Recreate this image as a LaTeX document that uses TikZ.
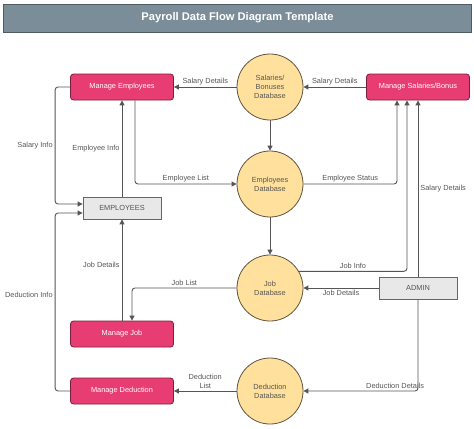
\documentclass[tikz,border=0pt]{standalone}
\usepackage{fontspec}
\setmainfont{Liberation Sans}
\usetikzlibrary{arrows.meta}

\definecolor{pinkfill}{HTML}{E83D72}
\definecolor{pinkline}{HTML}{7A1F3D}
\definecolor{storefill}{HTML}{FFE09C}
\definecolor{storeline}{HTML}{5E5440}
\definecolor{boxfill}{HTML}{E8E8E8}
\definecolor{boxline}{HTML}{666666}
\definecolor{titlefill}{HTML}{7B8D98}
\definecolor{titleline}{HTML}{4F5B62}
\definecolor{linegray}{HTML}{555555}
\definecolor{txtgray}{HTML}{555555}

\begin{document}
\begin{tikzpicture}
    [
        x=1bp, y=-1bp,
        title/.style = {draw=titleline, fill=titlefill, line width=1bp, minimum width=467bp, minimum height=28bp, text=white, font=\fontsize{11.2}{13}\selectfont\bfseries},
        process/.style = {draw=pinkline, fill=pinkfill, rounded corners=3bp, minimum width=103bp, minimum height=26bp, line width=0.8bp, text=white, font=\fontsize{7.4}{9}\selectfont},
        store/.style = {circle, draw=storeline, fill=storefill, minimum size=66bp, inner sep=0pt, line width=0.8bp, align=center, text=txtgray, font=\fontsize{7.4}{9}\selectfont},
        entity/.style = {draw=boxline, fill=boxfill, minimum width=78bp, minimum height=22bp, line width=0.8bp, text=txtgray, font=\fontsize{7.4}{9}\selectfont},
        flow/.style = {draw=linegray, line width=0.9bp, rounded corners=3bp, -{Triangle[length=5bp,width=5bp]}},
        lbl/.style = {text=txtgray, font=\fontsize{7.4}{9}\selectfont, inner sep=2bp, align=center},
    ]

    \useasboundingbox (0,0) rectangle (474,428);

    \node[title] (t) at (237.5,18) {Payroll Data Flow Diagram Template};

    \node[process] (0p) at (122,87)  {Manage Employees};
    \node[process] (1p) at (418,87)  {Manage Salaries/Bonus};
    \node[process] (2p) at (122,334) {Manage Job};
    \node[process] (3p) at (122,391) {Manage Deduction};

    \node[store] (0d) at (270,87)  {Salaries/\\Bonuses\\Database};
    \node[store] (1d) at (270,184) {Employees\\Database};
    \node[store] (2d) at (270,288) {Job\\Database};
    \node[store] (3d) at (270,391) {Deduction\\Database};

    \node[entity] (0e) at (122,208) {EMPLOYEES};
    \node[entity] (1e) at (418,288) {ADMIN};

    \draw[flow] (0d.west) -- node[lbl, above] {Salary Details} (0p.east);
    \draw[flow] (1p.west) -- node[lbl, above] {Salary Details} (0d.east);
    \draw[flow] (0d.south) -- (1d.north);
    \draw[flow] (1d.south) -- (2d.north);
    \draw[flow] ([xshift=13bp]0p.south) |- node[lbl, pos=0.75, above] {Employee List} (1d.west);
    \draw[flow] (1d.east) -| node[lbl, pos=0.25, above] {Employee Status} ([xshift=-21bp]1p.south);
    \draw[flow] (0e.north) -- node[lbl, left] {Employee Info} (0p.south);
    \draw[flow] (0p.west) -- ++(-15,0) |- node[lbl, pos=0.25, left] {Salary Info} ([yshift=4bp]0e.west);
    \draw[flow] (3p.west) -- ++(-15,0) |- node[lbl, pos=0.27, left] {Deduction Info} ([yshift=-5bp]0e.west);
    \draw[flow] (2p.north) -- node[lbl, pos=0.55, left] {Job Details} (0e.south);
    \draw[flow] (2d.west) -| node[lbl, pos=0.25, above] {Job List} ([xshift=10bp]2p.north);
    \draw[flow] (2d.30) -| node[lbl, pos=0.25, above] {Job Info} ([xshift=-11bp]1p.south);
    \draw[flow] (1e.north) -- node[lbl, right] {Salary Details} (1p.south);
    \draw[flow] (1e.west) -- node[lbl, below] {Job Details} (2d.east);
    \draw[flow] (1e.south) |- node[lbl, pos=0.6, above] {Deduction Details} (3d.east);
    \draw[flow] (3d.west) -- node[lbl, above] {Deduction\\List} (3p.east);
\end{tikzpicture}
\end{document}
